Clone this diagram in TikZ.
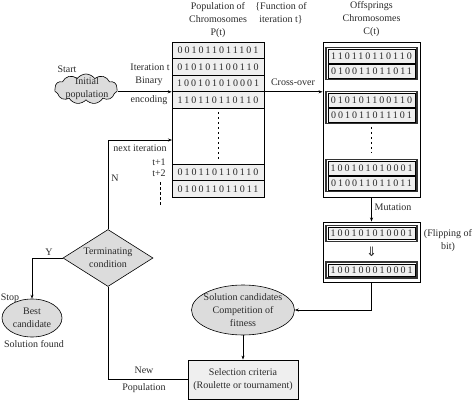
\documentclass[tikz,border=0pt]{standalone}
\usepackage{fontspec}
\setmainfont{Liberation Serif}
\newfontfamily\bitfont[LetterSpace=20]{Liberation Serif}
\newfontfamily\symfont{DejaVu Sans}
\usetikzlibrary{shapes.geometric,shapes.symbols,arrows.meta}
\definecolor{txt}{HTML}{2A2A2A}
\definecolor{rowfill}{HTML}{EFEFEF}
\definecolor{shapefill}{HTML}{DCDCDC}
\definecolor{grpline}{HTML}{333333}
\begin{document}
\begin{tikzpicture}[x=1pt,y=-1pt,
  every node/.style={text=txt,font=\fontsize{10}{13}\selectfont},
  lbl/.style={inner sep=0pt,align=center},
  outerbox/.style={draw=black,line width=0.9pt,inner sep=0pt},
  rowbox/.style={draw=black,line width=0.6pt,fill=rowfill,minimum width=92pt,minimum height=16.5pt,inner sep=0pt,font=\bitfont\fontsize{10}{12}\selectfont},
  grpbox/.style={draw=grpline,line width=1.3pt,fill=white,minimum width=91pt,inner sep=0pt},
  crow/.style={draw=black,line width=0.5pt,fill=rowfill,minimum width=87pt,minimum height=14pt,inner sep=0pt,font=\bitfont\fontsize{10}{12}\selectfont},
  blob/.style={draw=black,line width=0.6pt,fill=shapefill,inner sep=0pt},
  arr/.style={-{Stealth[length=4pt,width=3pt]},line width=0.7pt},
  con/.style={line width=0.7pt},
  dots/.style={line width=1pt,dash pattern=on 2.5pt off 2.5pt}
]
\useasboundingbox (0,0) rectangle (474,401);

% headings
\node[lbl] (hp) at (218,20) {Population of\\Chromosomes\\P(t)};
\node[lbl] (hf) at (281,13.5) {\{Function of\\iteration t\}};
\node[lbl] (hc) at (371.5,19.5) {Offsprings\\Chromosomes\\C(t)};

% P(t) box
\node[outerbox,minimum width=92pt,minimum height=155pt] (P) at (218,119.5) {};
\node[rowbox] (r1) at (218,50.25) {001011011101};
\node[rowbox] (r2) at (218,66.75) {010101100110};
\node[rowbox] (r3) at (218,83.25) {100101010001};
\node[rowbox] (r4) at (218,99.75) {110110110110};
\node[rowbox] (r5) at (218,172.25) {010110110110};
\node[rowbox] (r6) at (218,188.75) {010011011011};
\coordinate (pd1) at (218,112);
\coordinate (pd2) at (218,159);
\draw[dots] (pd1) -- (pd2);

% C(t) box
\node[outerbox,minimum width=97pt,minimum height=155pt] (C) at (371.5,119.5) {};
\node[grpbox,minimum height=32pt] (g1) at (371.5,63.5) {};
\node[crow] (c1) at (371.5,56) {110110110110};
\node[crow] (c2) at (371.5,71) {010011011011};
\node[grpbox,minimum height=32pt] (g2) at (371.5,107.5) {};
\node[crow] (c3) at (371.5,100) {010101100110};
\node[crow] (c4) at (371.5,115) {001011011101};
\coordinate (cd1) at (371.5,127);
\coordinate (cd2) at (371.5,153);
\draw[dots] (cd1) -- (cd2);
\node[grpbox,minimum height=32pt] (g3) at (371.5,175.5) {};
\node[crow] (c5) at (371.5,168) {100101010001};
\node[crow] (c6) at (371.5,183) {010011011011};

% Mutation box
\node[outerbox,minimum width=97pt,minimum height=60pt] (M) at (371.5,252) {};
\node[grpbox,minimum height=16pt] (mg1) at (371.5,233.5) {};
\node[crow,minimum height=12pt] (m1) at (371.5,233.5) {100101010001};
\node[inner sep=0pt,font=\symfont\fontsize{13}{14}\selectfont] (mdown) at (371.5,252) {⇓};
\node[grpbox,minimum height=16pt] (mg2) at (371.5,270) {};
\node[crow,minimum height=12pt] (m2) at (371.5,270) {100100010001};
\node[lbl] (flip) at (448,240.5) {(Flipping of\\bit)};

% cloud
\node[cloud,cloud puffs=11,cloud puff arc=110,aspect=2.1,blob,minimum width=63pt,minimum height=30pt] (cloud) at (86,89) {};
\node[lbl] (cloudtext) at (87,89) {Initial\\population};
\node[lbl] (start) at (67,69) {Start};

% left labels
\node[lbl] (it) at (150,67) {Iteration t};
\node[lbl] (bin) at (149,81.5) {Binary};
\node[lbl] (enc) at (149,100) {encoding};
\node[lbl] (cross) at (293,82) {Cross-over};
\node[lbl] (nextit) at (140,148) {next iteration};
\node[lbl] (t1) at (159,162) {t+1};
\node[lbl] (t2) at (159,173) {t+2};
\coordinate (td1) at (160,182);
\coordinate (td2) at (160,206);
\draw[dots] (td1) -- (td2);
\node[lbl] (N) at (115,178) {N};

% diamond
\node[diamond,blob,aspect=1.6,minimum width=90pt,minimum height=57pt,align=center] (dia) at (108,258) {Terminating\\condition};
\node[lbl] (Y) at (49,252) {Y};

% best candidate
\node[ellipse,blob,minimum width=60pt,minimum height=38pt] (best) at (32,318) {};
\node[lbl] (besttext) at (32,318) {Best\\candidate};
\node[lbl] (stop) at (10,298) {Stop};
\node[lbl] (found) at (34,344) {Solution found};

% solution candidates
\node[ellipse,blob,minimum width=103pt,minimum height=50pt] (sol) at (243,310) {};
\node[lbl] (soltext) at (243,310) {Solution candidates\\Competition of\\fitness};

% selection
\node[draw=black,line width=0.8pt,fill=rowfill,minimum width=110pt,minimum height=39pt,align=center,inner sep=0pt] (sel) at (243,379.5) {Selection criteria\\(Roulette or tournament)};
\node[lbl] (newp) at (144,379.5) {New\\[4pt]Population};
\node[lbl] (mut) at (393,207) {Mutation};

% connectors
\coordinate (nextin) at (172,140);
\draw[arr] (cloud.east |- r3.south) -- (r3.south west);
\draw[arr] (r3.south east) -- (r3.south east -| C.west);
\draw[arr] (dia.north) |- (nextin);
\draw[arr] (C.south) -- (M.north);
\draw[arr] (M.south) |- (sol.east);
\draw[arr] (sol.south) -- (sel.north);
\draw[con] (sel.west) -| (dia.south);
\draw[arr] (dia.west) -| (best.north);
\end{tikzpicture}
\end{document}
